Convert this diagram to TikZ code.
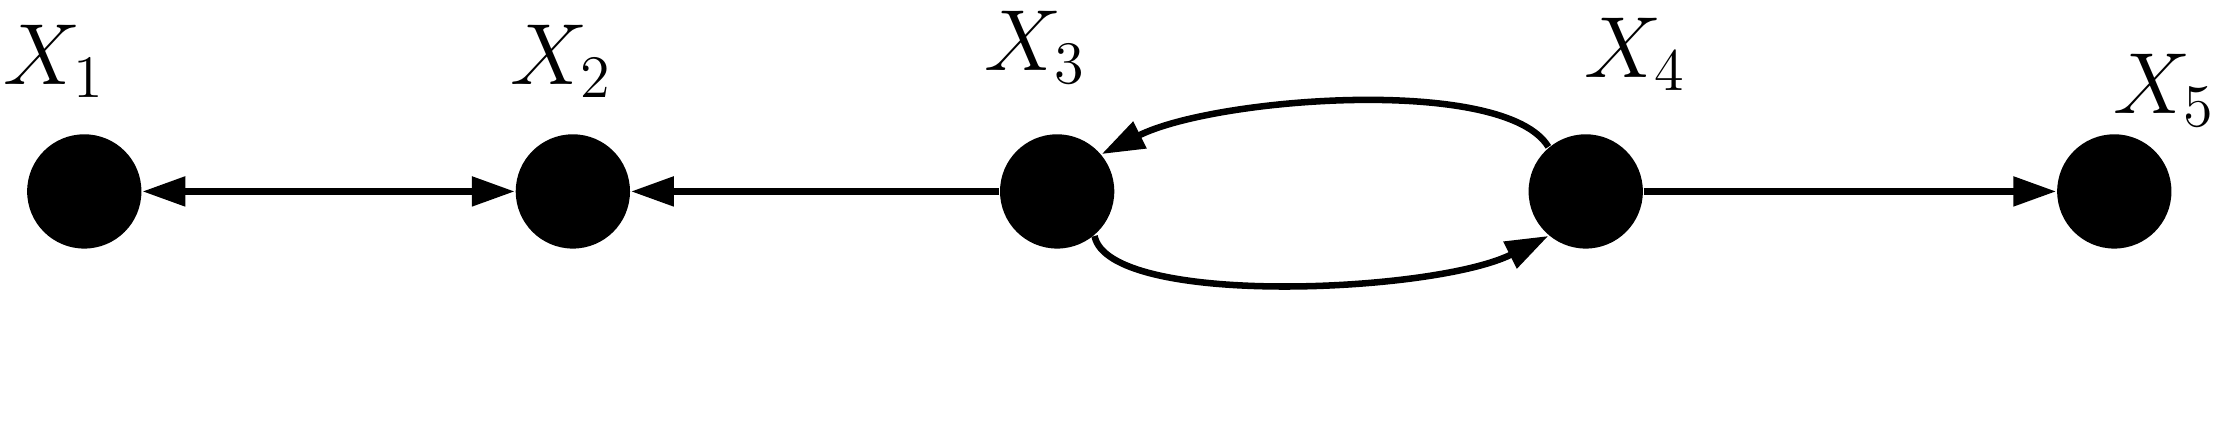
\documentclass[tikz,border=0pt]{standalone}
\usetikzlibrary{arrows.meta}
\begin{document}
\begin{tikzpicture}[
  dot/.style={circle,fill=black,minimum size=0.8cm,inner sep=0pt},
  lab/.style={font=\fontsize{17}{20}\selectfont},
  edge/.style={line width=1.3pt,-{Triangle[length=0.3cm,width=0.2cm]}},
  bedge/.style={line width=1.3pt,{Triangle[length=0.3cm,width=0.2cm]}-{Triangle[length=0.3cm,width=0.2cm]}}]
\useasboundingbox (0,0) rectangle (15.68,3.0);
\node[dot] (n1) at (0.59,1.66) {};
\node[dot] (n2) at (4.01,1.66) {};
\node[dot] (n3) at (7.40,1.66) {};
\node[dot] (n4) at (11.10,1.66) {};
\node[dot] (n5) at (14.80,1.66) {};
\node[lab] (l1) at (0.38,2.57) {$X_1$};
\node[lab] (l2) at (3.93,2.57) {$X_2$};
\node[lab] (l3) at (7.25,2.67) {$X_3$};
\node[lab] (l4) at (11.45,2.62) {$X_4$};
\node[lab] (l5) at (15.15,2.37) {$X_5$};
\draw[bedge] (n1) -- (n2);
\draw[edge] (n3) -- (n2);
\draw[edge] (n4) -- (n5);
\draw[edge] (n4.130) .. controls +(-0.3,0.5) and +(0.8,0.4) .. (n3.40);
\draw[edge] (n3.-50) .. controls +(0.1,-0.5) and +(-0.8,-0.4) .. (n4.-130);
\end{tikzpicture}
\end{document}
